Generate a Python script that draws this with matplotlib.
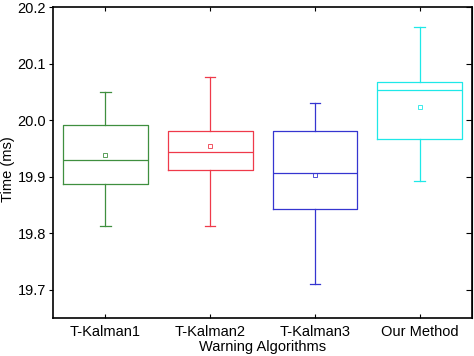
import matplotlib
matplotlib.use('Agg')
import matplotlib.pyplot as plt

plt.rcParams['font.family'] = ['Liberation Sans', 'DejaVu Sans']

# Box statistics
algorithms = ['T-Kalman1', 'T-Kalman2', 'T-Kalman3', 'Our Method']
whisker_low = [19.813, 19.812, 19.710, 19.893]
q1 = [19.887, 19.912, 19.843, 19.966]
median = [19.930, 19.943, 19.906, 20.053]
q3 = [19.991, 19.980, 19.981, 20.067]
whisker_high = [20.049, 20.076, 20.030, 20.164]
means = [19.938, 19.955, 19.903, 20.023]
colors = ['#3f8f3f', '#ef3a4a', '#3535d0', '#1ee8e8']

stats = []
for i, name in enumerate(algorithms):
    stats.append({
        'label': name,
        'whislo': whisker_low[i],
        'q1': q1[i],
        'med': median[i],
        'q3': q3[i],
        'whishi': whisker_high[i],
        'mean': means[i],
        'fliers': [],
    })

fig = plt.figure(figsize=(4.74, 3.56), dpi=100)
ax = fig.add_axes([0.112, 0.107, 0.884, 0.873])

for i, s in enumerate(stats):
    c = colors[i]
    ax.bxp([s], positions=[i + 1], widths=0.81, showmeans=True,
           showfliers=False, capwidths=0.1,
           boxprops=dict(color=c, linewidth=0.9),
           whiskerprops=dict(color=c, linewidth=0.9),
           capprops=dict(color=c, linewidth=0.9),
           medianprops=dict(color=c, linewidth=0.9),
           meanprops=dict(marker='s', markersize=3, markerfacecolor='none',
                          markeredgecolor=c, markeredgewidth=0.6))

ax.set_xlim(0.5, 4.5)
ax.set_ylim(19.65, 20.2)
ax.set_yticks([19.7, 19.8, 19.9, 20.0, 20.1, 20.2])
ax.set_yticklabels(['19.7', '19.8', '19.9', '20.0', '20.1', '20.2'])
ax.set_xticks([1, 2, 3, 4])
ax.set_xticklabels(algorithms)

ax.tick_params(axis='y', which='both', direction='out', left=True, right=False,
               length=3, labelsize=10.5, pad=2)
ax.tick_params(axis='x', direction='in', top=True, bottom=True, length=3,
               labelsize=10.5, pad=5)
ax2 = ax.secondary_yaxis('right')
ax2.set_yticks([19.7, 19.8, 19.9, 20.0, 20.1, 20.2])
ax2.tick_params(direction='in', length=4, labelright=False)

for sp in ax.spines.values():
    sp.set_linewidth(1.2)

ax.set_xlabel('Warning Algorithms', fontsize=10.5, labelpad=1)
ax.set_ylabel('Time (ms)', fontsize=10.5)
ax.yaxis.set_label_coords(-0.092, 0.48)

fig.savefig('out.png', dpi=100)
